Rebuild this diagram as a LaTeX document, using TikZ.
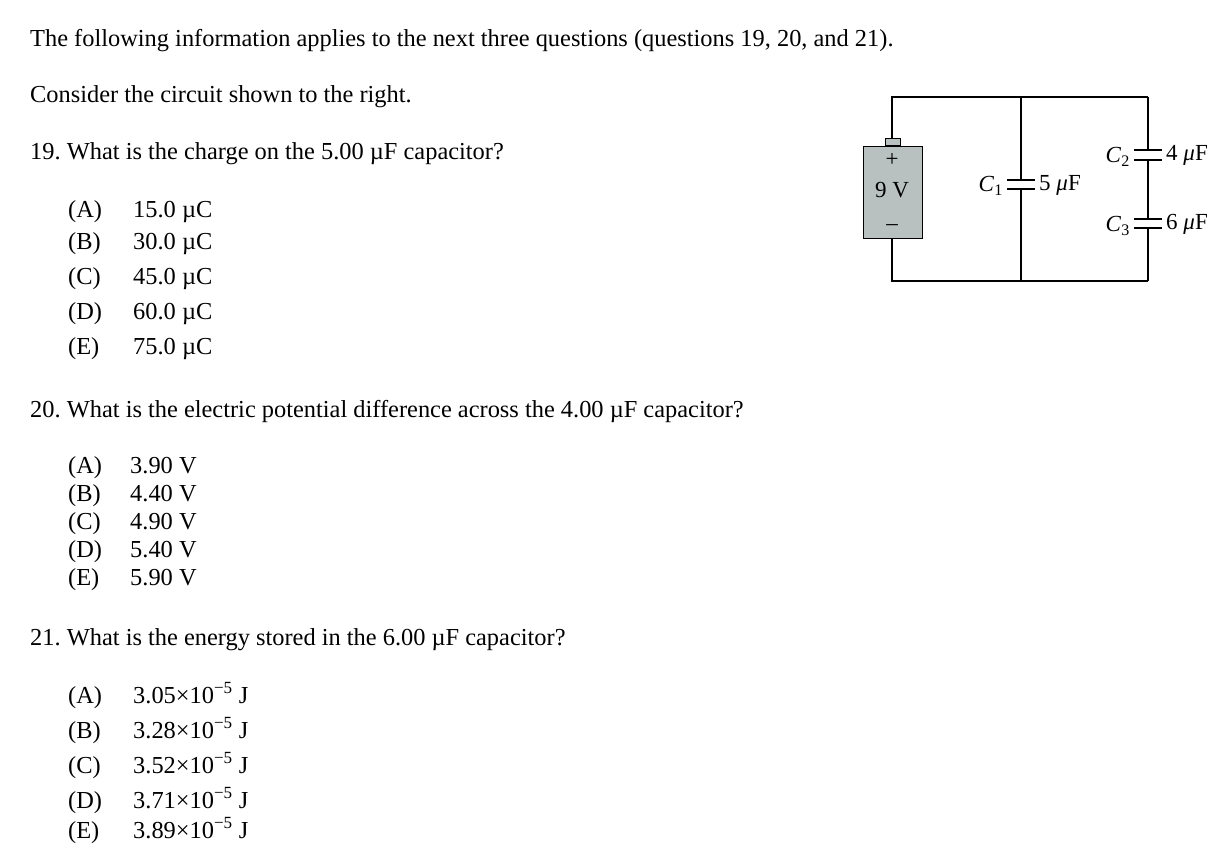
\documentclass[tikz,border=0pt]{standalone}
\usepackage{fontspec}
\setmainfont{Liberation Serif}
\frenchspacing
\definecolor{batgray}{RGB}{184,192,192}
\begin{document}
\begin{tikzpicture}[x=1pt,y=-1pt,
  txt/.style={anchor=base west,inner sep=0pt,font=\fontsize{24.4}{28}\selectfont},
  lab/.style={inner sep=0pt,font=\fontsize{23}{27}\selectfont},
  wire/.style={line width=2.3pt},
  plate/.style={line width=2.5pt}]
\useasboundingbox (0,0) rectangle (1229,861);
\node[txt] (l1) at (30,47) {The following information applies to the next three questions (questions 19, 20, and 21).};
\node[txt] (l2) at (30,103) {Consider the circuit shown to the right.};
\node[txt] (q19) at (30,160) {19. What is the charge on the 5.00 µF capacitor?};
\foreach \y/\l/\v in {218/A/15.0,250/B/30.0,284/C/45.0,319/D/60.0,354/E/75.0}{
  \node[txt] (a19\l) at (68,\y) {(\l)};
  \node[txt] (v19\l) at (133,\y) {\v{} µC};}
\node[txt] (q20) at (30,417) {20. What is the electric potential difference across the 4.00 µF capacitor?};
\foreach \y/\l/\v in {473/A/3.90,501/B/4.40,529/C/4.90,557/D/5.40,585/E/5.90}{
  \node[txt] (a20\l) at (68,\y) {(\l)};
  \node[txt] (v20\l) at (130,\y) {\v{} V};}
\node[txt] (q21) at (30,645) {21. What is the energy stored in the 6.00 µF capacitor?};
\foreach \y/\l/\v in {703/A/3.05,738/B/3.28,773/C/3.52,808/D/3.71,838/E/3.89}{
  \node[txt] (a21\l) at (68,\y) {(\l)};
  \node[txt] (v21\l) at (133,\y) {\v×10\textsuperscript{−5} J};}
% circuit
\coordinate (tl) at (892,97); \coordinate (tm) at (1021,97); \coordinate (tr) at (1148,97);
\coordinate (bl) at (892,281); \coordinate (bm) at (1021,281); \coordinate (br) at (1148,281);
\draw[wire] (892,140) -- (tl) -- (tr);
\draw[wire] (892,239) -- (bl) -- (br);
\node[draw,line width=1pt,fill=batgray,minimum width=59,minimum height=92,inner sep=0pt] (bat) at (892.5,193) {};
\node[draw,line width=1pt,fill=batgray,minimum width=15,minimum height=7,inner sep=0pt,anchor=south] (nub) at (bat.north) {};
\node[lab] (plus) at (892,160) {+};
\node[lab] (nine) at (892,190) {9 V};
\node[lab] (minus) at (892,228) {–};
% C1
\draw[wire] (tm) -- (1021,180) (1021,189) -- (bm);
\draw[plate] (1007,180) -- (1035,180) (1007,189) -- (1035,189);
\node[lab,anchor=east] (c1) at (1003,186) {\textit{C}\textsubscript{1}};
\node[lab,anchor=west] (c1v) at (1039,185) {5 \textit{μ}F};
% C2, C3
\draw[wire] (tr) -- (1148,150) (1148,160) -- (1148,219) (1148,228) -- (br);
\draw[plate] (1134,150) -- (1162,150) (1134,160) -- (1162,160);
\draw[plate] (1134,219) -- (1162,219) (1134,228) -- (1162,228);
\node[lab,anchor=east] (c2) at (1130,157) {\textit{C}\textsubscript{2}};
\node[lab,anchor=west] (c2v) at (1166,155) {4 \textit{μ}F};
\node[lab,anchor=east] (c3) at (1130,226) {\textit{C}\textsubscript{3}};
\node[lab,anchor=west] (c3v) at (1166,224) {6 \textit{μ}F};
\end{tikzpicture}
\end{document}
